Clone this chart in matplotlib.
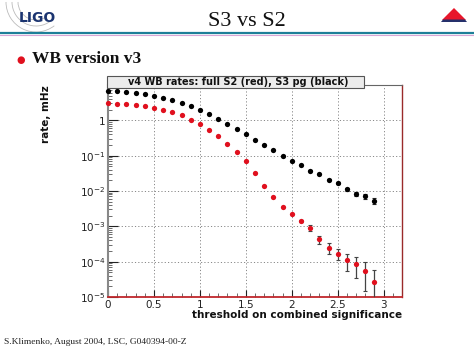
import numpy as np
import matplotlib
matplotlib.use("Agg")
import matplotlib.pyplot as plt
from matplotlib.patches import Polygon, Rectangle, Arc
from matplotlib.lines import Line2D

# ---- data ----
thresholds = [round(0.1 * i, 1) for i in range(30)]
s3_black = [6.7, 6.6, 6.2, 5.8, 5.4, 4.9, 4.4, 3.7, 3.1, 2.5,
            1.95, 1.48, 1.07, 0.77, 0.57, 0.40, 0.285, 0.20, 0.142, 0.10,
            0.069, 0.054, 0.038, 0.030, 0.021, 0.017, 0.0112, 0.0084, 0.0070, 0.0052]
s3_err = [0, 0, 0, 0, 0, 0, 0, 0, 0, 0,
          0, 0, 0, 0, 0, 0, 0, 0, 0, 0,
          0, 0, 0.0004, 0.0004, 0.0005, 0.0007, 0.0010, 0.0011, 0.0011, 0.0010]
s2_red = [3.1, 2.96, 2.83, 2.7, 2.5, 2.2, 1.9, 1.68, 1.38, 1.05,
          0.81, 0.55, 0.35, 0.22, 0.131, 0.069, 0.033, 0.0142, 0.0066, 0.0035,
          0.0023, 0.0014, 9.1e-4, 4.3e-4, 2.5e-4, 1.7e-4, 1.1e-4, 8.5e-5, 5.5e-5, 2.7e-5]
s2_err = [0, 0, 0, 0, 0, 0, 0, 0, 0, 0,
          0, 0, 0, 0, 0, 0, 0, 0, 0, 0,
          0, 1e-4, 1.5e-4, 1.1e-4, 0.85e-4, 0.6e-4, 0.55e-4, 0.5e-4, 4e-5, 3e-5]
xticks = [0, 0.5, 1, 1.5, 2, 2.5, 3]
xticklabels = ["0", "0.5", "1", "1.5", "2", "2.5", "3"]
yticks = [1e-5, 1e-4, 1e-3, 1e-2, 1e-1, 1]
yticklabels = [r"$10^{-5}$", r"$10^{-4}$", r"$10^{-3}$",
               r"$10^{-2}$", r"$10^{-1}$", r"$1$"]
plot_title = "v4 WB rates: full S2 (red), S3 pg (black)"

W, H = 474, 355
fig = plt.figure(figsize=(W / 100, H / 100), dpi=100)
fig.patch.set_facecolor("white")
plt.rcParams["mathtext.fontset"] = "dejavusans"

def fx(px):
    return px / W

def fy(py):
    return 1 - py / H

# ---- slide header ----
fig.add_artist(Line2D([0, 1], [fy(32.5), fy(32.5)], color="#1d7f98", lw=1.6))
fig.add_artist(Line2D([0, 1], [fy(35), fy(35)], color="#d9a6d6", lw=0.8))
fig.text(fx(247), fy(22), "S3 vs S2", ha="center", va="center",
         fontsize=16, family="Liberation Serif", color="#111111")
fig.text(fx(19), fy(18), "LIGO", ha="left", va="center", fontsize=10,
         fontweight="bold", family="DejaVu Sans", color="#1b3470")
for r in (18, 24, 30):
    fig.add_artist(Arc((fx(36), fy(2)), 2 * r / W, 2 * r / H, theta1=180, theta2=300,
                       color="#bbbbbb", lw=0.6, transform=fig.transFigure))
fig.add_artist(Polygon([[fx(442), fy(20)], [fx(466), fy(20)], [fx(454), fy(8)]],
                       closed=True, facecolor="#e8162b", edgecolor="none",
                       transform=fig.transFigure))
fig.add_artist(Polygon([[fx(441), fy(22)], [fx(467), fy(22)], [fx(465), fy(19.5)], [fx(443), fy(19.5)]],
                       closed=True, facecolor="#25306b", edgecolor="none",
                       transform=fig.transFigure))
fig.text(fx(16), fy(60), "\u25CF", ha="left", va="center", fontsize=7, color="#e0101e")
fig.text(fx(32), fy(59), "WB version v3", ha="left", va="center", fontsize=12.5,
         fontweight="bold", family="Liberation Serif", color="#111111")
fig.text(fx(4), fy(342), "S.Klimenko, August 2004, LSC, G040394-00-Z", ha="left",
         va="center", fontsize=6.8, family="Liberation Serif", color="#222222")

# ---- plot ----
left, right, top, bottom = 108, 402, 85, 297
ax = fig.add_axes([fx(left), fy(bottom), (right - left) / W, (bottom - top) / H])
ax.set_yscale("log")
ax.set_xlim(0, 3.2)
ax.set_ylim(1e-5, 10)

ax.grid(True, which="major", color="#888888", linestyle=(0, (1.2, 2.2)), lw=0.7)
ax.set_axisbelow(True)

x = np.array(thresholds)
bk = np.array(s3_black)
be = np.array(s3_err)
rd = np.array(s2_red)
re = np.array(s2_err)

ax.errorbar(x, bk, yerr=[np.minimum(be, bk * 0.999), be], fmt="none",
            ecolor="#222222", elinewidth=0.9, capsize=1.2, capthick=0.8, zorder=3)
ax.errorbar(x, rd, yerr=[np.minimum(re, rd * 0.999), re], fmt="none",
            ecolor="#444444", elinewidth=0.9, capsize=1.2, capthick=0.8, zorder=3)
ax.plot(x, bk, "o", ms=3.8, color="black", mec="none", zorder=4, clip_on=False)
ax.plot(x, rd, "o", ms=3.8, color="#e0101e", mec="none", zorder=4, clip_on=False)

ax.set_xticks(xticks)
ax.set_xticklabels(xticklabels)
ax.set_xticks(np.arange(0, 3.21, 0.1), minor=True)
ax.set_yticks(yticks)
ax.set_yticklabels(yticklabels)
ax.tick_params(axis="both", which="major", direction="in", length=5, width=0.8,
               labelsize=7.5, colors="#222222", pad=2)
ax.tick_params(axis="both", which="minor", direction="in", length=3, width=0.6,
               color="#555555")
ax.tick_params(axis="y", which="major", length=7)
ax.yaxis.set_minor_locator(matplotlib.ticker.LogLocator(base=10, subs=np.arange(2, 10)))
ax.yaxis.set_minor_formatter(matplotlib.ticker.NullFormatter())

ax.spines["left"].set_color("#888888")
ax.spines["left"].set_linewidth(1.5)
ax.spines["bottom"].set_color("#c0282c")
ax.spines["bottom"].set_linewidth(1.3)
ax.spines["right"].set_color("#9a2a2a")
ax.spines["right"].set_linewidth(1.0)
ax.spines["top"].set_color("#666666")
ax.spines["top"].set_linewidth(0.8)

fig.text(fx(402), fy(315), "threshold on combined significance", ha="right",
         va="center", fontsize=7.5, fontweight="bold", family="DejaVu Sans",
         color="#111111")
fig.text(fx(46), fy(85), "rate, mHz", ha="center", va="top", rotation=90,
         fontsize=7.5, fontweight="bold", family="DejaVu Sans", color="#111111")

# title box
fig.add_artist(Rectangle((fx(107), fy(88)), (364 - 107) / W, 12 / H,
                         facecolor="#ececec", edgecolor="#555555", lw=0.8,
                         transform=fig.transFigure, zorder=5))
fig.text(fx(238), fy(82), plot_title, ha="center", va="center", fontsize=7.0,
         fontweight="bold", family="DejaVu Sans", color="#111111", zorder=6)

fig.savefig("out.png", dpi=100)
